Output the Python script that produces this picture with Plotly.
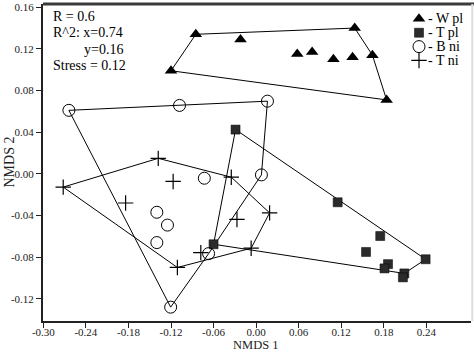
import plotly.graph_objects as go

# ---- data ----
wpl_x = [-0.120, -0.085, -0.022, 0.058, 0.079, 0.109, 0.136, 0.139, 0.164, 0.184]
wpl_y = [0.099, 0.134, 0.129, 0.115, 0.117, 0.110, 0.112, 0.140, 0.114, 0.071]
wpl_hull_x = [-0.120, -0.085, 0.139, 0.164, 0.184, -0.120]
wpl_hull_y = [0.099, 0.134, 0.140, 0.114, 0.071, 0.099]

tpl_x = [-0.029, -0.060, 0.115, 0.175, 0.155, 0.186, 0.181, 0.209, 0.207, 0.239]
tpl_y = [0.0425, -0.0676, -0.0273, -0.0597, -0.075, -0.0867, -0.0908, -0.0956, -0.0994, -0.082]
tpl_hull_x = [-0.029, 0.239, 0.209, -0.060, -0.029]
tpl_hull_y = [0.0425, -0.082, -0.0956, -0.0676, 0.0425]

bni_x = [-0.264, -0.108, 0.016, 0.0075, -0.073, -0.140, -0.125, -0.140, -0.067, -0.1205]
bni_y = [0.061, 0.0657, 0.0698, -0.001, -0.0042, -0.0369, -0.0492, -0.066, -0.0766, -0.128]
bni_hull_x = [-0.264, -0.108, 0.016, 0.0075, -0.067, -0.1205, -0.264]
bni_hull_y = [0.061, 0.0657, 0.0698, -0.001, -0.0766, -0.128, 0.061]

tni_x = [-0.272, -0.138, -0.117, -0.184, -0.035, 0.019, -0.027, -0.007, -0.078, -0.111]
tni_y = [-0.0127, 0.0149, -0.0073, -0.028, -0.0032, -0.0375, -0.0438, -0.0714, -0.0756, -0.0899]
tni_hull_x = [-0.272, -0.138, -0.035, 0.019, -0.007, -0.111, -0.272]
tni_hull_y = [-0.0127, 0.0149, -0.0032, -0.0375, -0.0714, -0.0899, -0.0127]

x_ticks = [-0.30, -0.24, -0.18, -0.12, -0.06, 0.00, 0.06, 0.12, 0.18, 0.24]
x_tick_labels = ["-0.30", "-0.24", "-0.18", "-0.12", "-0.06", "0.00", "0.06", "0.12", "0.18", "0.24"]
y_ticks = [-0.12, -0.08, -0.04, 0.00, 0.04, 0.08, 0.12, 0.16]
y_tick_labels = ["-0.12", "-0.08", "-0.04", "0.00", "0.04", "0.08", "0.12", "0.16"]

legend_labels = ["- W pl", "- T pl", "- B ni", "- T ni"]
stats_lines = ["R = 0.6", "R^2: x=0.74", "y=0.16", "Stress = 0.12"]
x_title = "NMDS 1"
y_title = "NMDS 2"

FONT = "Liberation Serif"

fig = go.Figure()

line_style = dict(color="black", width=1)
for hx, hy in [(wpl_hull_x, wpl_hull_y), (tpl_hull_x, tpl_hull_y),
               (bni_hull_x, bni_hull_y), (tni_hull_x, tni_hull_y)]:
    fig.add_trace(go.Scatter(x=hx, y=hy, mode="lines", line=line_style,
                             showlegend=False, hoverinfo="skip"))

m_wpl = dict(symbol="triangle-up", size=11, color="black", line=dict(width=0))
m_tpl = dict(symbol="square", size=9, color="#2b2b2b", line=dict(color="black", width=0.5))
m_bni = dict(symbol="circle-open", size=12, color="black", line=dict(color="black", width=1))
m_tni = dict(symbol="cross-thin-open", size=11, color="black", line=dict(color="black", width=1.2))

fig.add_trace(go.Scatter(x=wpl_x, y=wpl_y, mode="markers", marker=m_wpl, showlegend=False))
fig.add_trace(go.Scatter(x=tpl_x, y=tpl_y, mode="markers", marker=m_tpl, showlegend=False))
fig.add_trace(go.Scatter(x=bni_x, y=bni_y, mode="markers", marker=m_bni, showlegend=False))
fig.add_trace(go.Scatter(x=tni_x, y=tni_y, mode="markers", marker=m_tni, showlegend=False))

# plot-area pixel geometry
L, R, T, B = 43, 471, 1, 321
W, H = R - L, B - T

def px(xp):
    return (xp - L) / W

def py(yp):
    return 1 - (yp - T) / H

# manual legend on an overlay axis spanning the plot area (0..1)
leg_rows = [16, 30, 44, 58]
for mk, yp, lab in zip([m_wpl, m_tpl, m_bni, m_tni], leg_rows, legend_labels):
    fig.add_trace(go.Scatter(x=[px(419)], y=[py(yp)], mode="markers", marker=mk,
                             showlegend=False, hoverinfo="skip",
                             xaxis="x2", yaxis="y2"))
    fig.add_annotation(x=px(426), y=py(yp), xref="x2", yref="y2", text=lab,
                       showarrow=False, xanchor="left", yanchor="middle",
                       font=dict(family=FONT, size=14, color="black"))

# stats text
stats_pos = [(51, 14), (51, 30), (82, 47), (51, 63)]
for (xp, yp), t in zip(stats_pos, stats_lines):
    fig.add_annotation(x=px(xp), y=py(yp), xref="paper", yref="paper",
                       text=t, showarrow=False, xanchor="left", yanchor="middle",
                       font=dict(family=FONT, size=14, color="black"))

# axis titles
fig.add_annotation(x=px(256), y=py(345.5), xref="paper", yref="paper", text=x_title,
                   showarrow=False, xanchor="center", yanchor="middle",
                   font=dict(family=FONT, size=12.5, color="#222"))
fig.add_annotation(x=px(9), y=py(161), xref="paper", yref="paper", text=y_title,
                   showarrow=False, xanchor="center", yanchor="middle", textangle=-90,
                   font=dict(family=FONT, size=14, color="#222"))

axis_common = dict(showgrid=False, zeroline=False, showline=True, linecolor="#222",
                   linewidth=2, ticks="outside", ticklen=5, tickwidth=1, tickcolor="#222",
                   ticklabeloverflow="allow",
                   tickfont=dict(family=FONT, size=11, color="#222"))

fig.update_layout(
    width=474, height=353,
    margin=dict(l=L, r=474 - R, t=T, b=353 - B),
    paper_bgcolor="white", plot_bgcolor="white",
    xaxis=dict(range=[-0.3005, 0.303], tickvals=x_ticks, ticktext=x_tick_labels,
               ticklabelstandoff=-5, **axis_common),
    yaxis=dict(range=[-0.1413, 0.1631], tickvals=y_ticks, ticktext=y_tick_labels,
               **axis_common),
    xaxis2=dict(overlaying="x", range=[0, 1], visible=False, fixedrange=True),
    yaxis2=dict(overlaying="y", range=[0, 1], visible=False, fixedrange=True),
    showlegend=False,
    shapes=[
        dict(type="line", xref="paper", yref="paper", x0=0, x1=1.01, y0=1.0, y1=1.0,
             line=dict(color="#3a3a3a", width=3)),
        dict(type="line", xref="paper", yref="paper", x0=1.003, x1=1.003, y0=0, y1=1,
             line=dict(color="#dddddd", width=2)),
    ],
)

fig.write_html("out.html")
